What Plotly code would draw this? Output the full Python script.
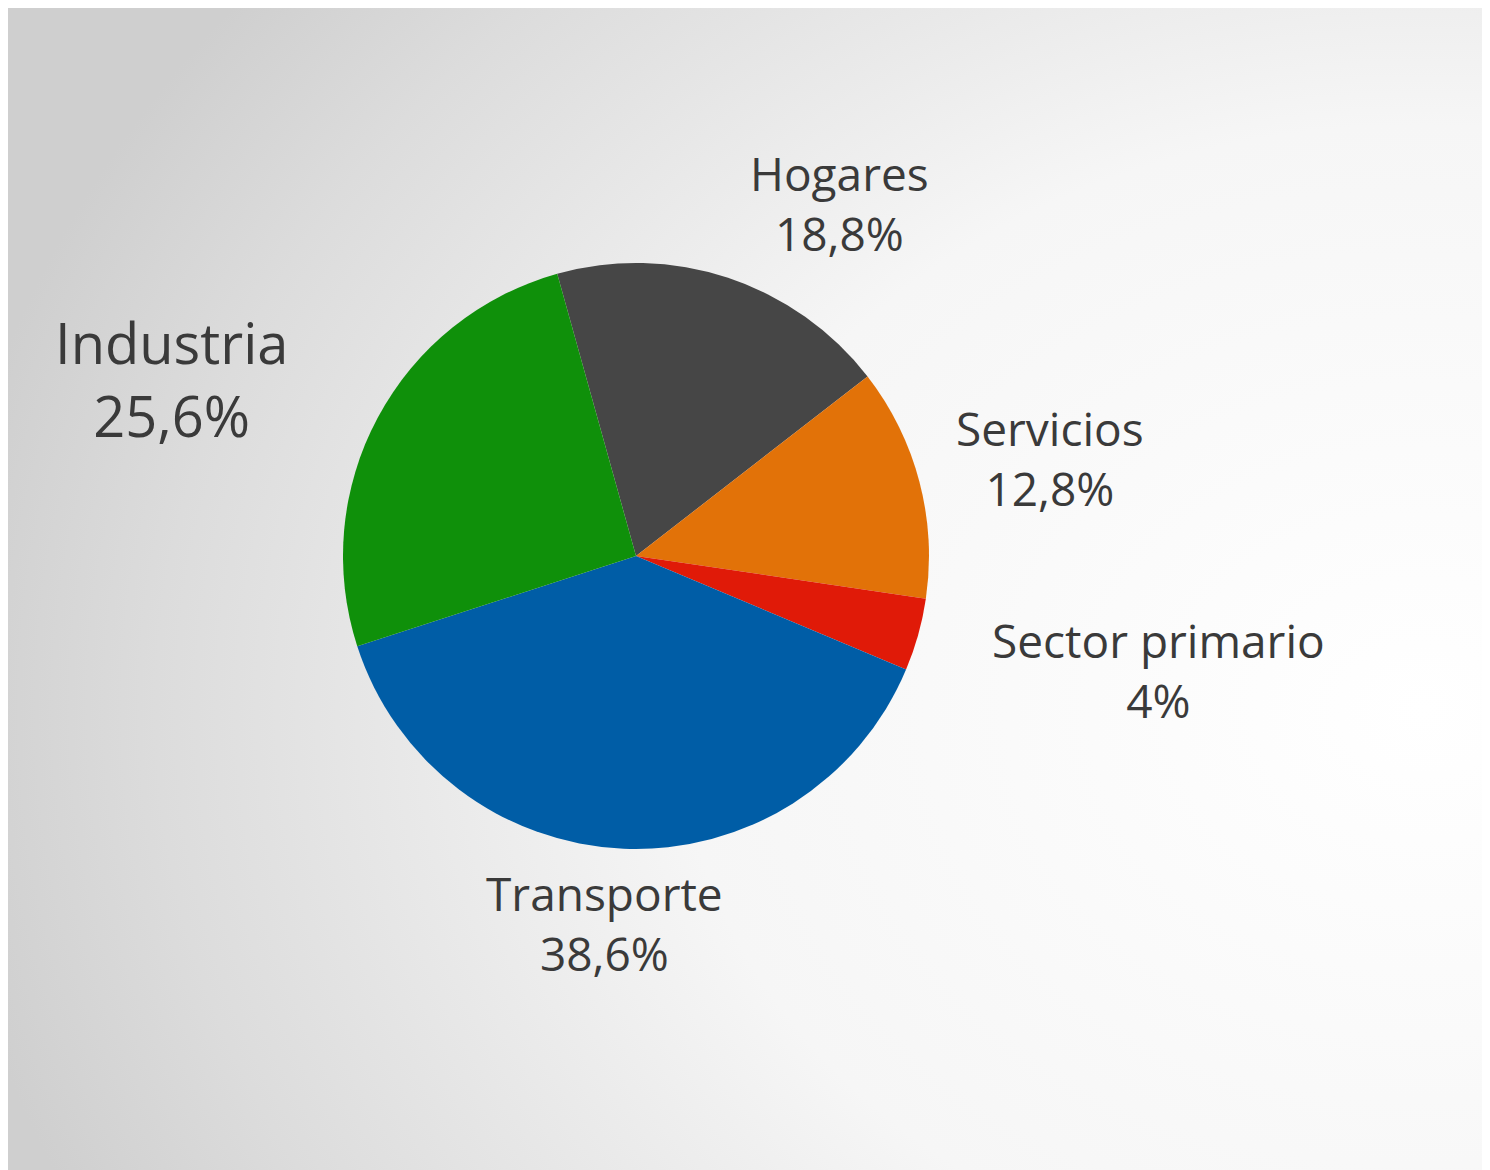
import plotly.graph_objects as go
import base64

labels = ["Hogares", "Servicios", "Sector primario", "Transporte", "Industria"]
values = [18.8, 12.8, 4.0, 38.6, 25.6]
pct_text = ["18,8%", "12,8%", "4%", "38,6%", "25,6%"]
colors = ["#464646", "#e27208", "#e01a08", "#005da6", "#0f900a"]
label_x = [832, 1042, 1150, 596, 163]
label_y = [195, 450, 662, 915, 370]
label_size = [44, 44, 44, 44, 54]

W, H = 1490, 1170
svg = f'''<svg xmlns="http://www.w3.org/2000/svg" width="{W}" height="{H}">
<defs><radialGradient id="g" cx="0.95" cy="0.6" r="1.0">
<stop offset="0" stop-color="#ffffff"/><stop offset="0.5" stop-color="#f6f6f6"/>
<stop offset="0.85" stop-color="#dcdcdc"/><stop offset="1" stop-color="#cfcfcf"/></radialGradient></defs>
<rect width="{W}" height="{H}" fill="url(#g)"/></svg>'''
uri = "data:image/svg+xml;base64," + base64.b64encode(svg.encode()).decode()

cx, cy, r = 628, 548, 293
fig = go.Figure(go.Pie(
    labels=labels, values=values, sort=False, direction="clockwise",
    rotation=-15.6, textinfo="none", hoverinfo="label+percent",
    marker=dict(colors=colors, line=dict(width=0)),
    domain=dict(x=[(cx - r) / W, (cx + r) / W], y=[1 - (cy + r) / H, 1 - (cy - r) / H]),
    showlegend=False,
))
for lab, p, x, y, s in zip(labels, pct_text, label_x, label_y, label_size):
    fig.add_annotation(x=x / W, y=1 - y / H, xref="paper", yref="paper",
                       xanchor="center", yanchor="middle",
                       text=f"{lab}<br>{p}", showarrow=False,
                       font=dict(family="Open Sans", size=s + 2, color="#3a3a3a"),
                       align="center")
fig.update_layout(
    width=W, height=H, margin=dict(l=0, r=0, t=0, b=0),
    paper_bgcolor="rgba(0,0,0,0)", plot_bgcolor="rgba(0,0,0,0)",
    images=[dict(source=uri, xref="paper", yref="paper", x=0, y=1, sizex=1, sizey=1,
                 sizing="stretch", layer="below")],
)
fig.write_html("out.html")
